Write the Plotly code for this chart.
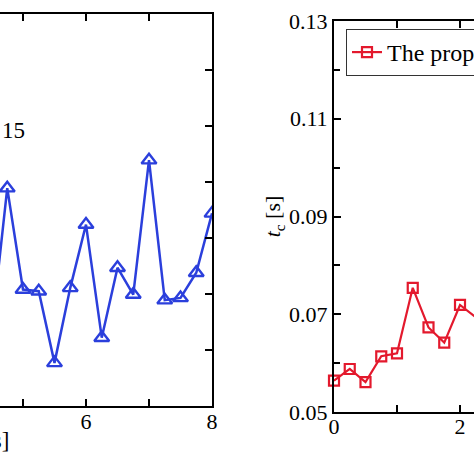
import plotly.graph_objects as go

# ---- data ----
left_x = [4.5, 4.75, 5.0, 5.25, 5.5, 5.75, 6.0, 6.25, 6.5, 6.75, 7.0, 7.25, 7.5, 7.75, 8.0]
left_y = [0.0632, 0.0889, 0.0708, 0.0705, 0.0577, 0.0711, 0.0824, 0.0622, 0.0747,
          0.0699, 0.0939, 0.0689, 0.0693, 0.0738, 0.0844]

right_x = [0, 0.25, 0.5, 0.75, 1.0, 1.25, 1.5, 1.75, 2.0, 2.25]
right_y = [0.0564, 0.0588, 0.0561, 0.0614, 0.0620, 0.0754, 0.0673, 0.0642, 0.0719, 0.0694]

right_name = "The proposed method"
right_ytitle = "<i>t</i><sub>c</sub> [s]"
left_xtitle = "<i>t</i> [s]"
left_note = "15"

FONT = "Liberation Serif"
BLUE = "#2b3fdc"
RED = "#e3192d"

fig = go.Figure()
fig.add_trace(go.Scatter(
    x=left_x, y=left_y, mode="lines+markers", xaxis="x", yaxis="y",
    line=dict(color=BLUE, width=2.5),
    marker=dict(symbol="triangle-up-open", size=13, color=BLUE, line=dict(width=2.4, color=BLUE)),
    showlegend=False,
))
fig.add_trace(go.Scatter(
    x=right_x, y=right_y, mode="lines+markers", xaxis="x2", yaxis="y2",
    name=right_name, cliponaxis=False,
    line=dict(color=RED, width=2.2),
    marker=dict(symbol="square-open", size=10, color=RED, line=dict(width=2.2, color=RED)),
))

W = 474.0
axis_common = dict(showgrid=False, zeroline=False, showline=True, linecolor="black",
                   linewidth=2, ticks="inside", ticklen=7, tickwidth=1.5, tickcolor="black",
                   tickfont=dict(family=FONT, size=22, color="black"), automargin=False)

fig.update_layout(
    width=474, height=474, autosize=False,
    margin=dict(l=0, r=0, t=0, b=0, autoexpand=False),
    paper_bgcolor="white", plot_bgcolor="white",
    font=dict(family=FONT, size=22, color="black"),
    xaxis=dict(domain=[0, 212 / W], range=[8 - 212 / 63.0, 8], dtick=2, tick0=0,
               mirror="ticks", anchor="y", ticklabelstandoff=-5,
               minor=dict(dtick=1, ticks="inside", ticklen=7, tickwidth=1.5, tickcolor="black"),
               **axis_common),
    yaxis=dict(domain=[(474 - 406) / W, (474 - 14) / W], range=[0.05, 0.12], dtick=0.01,
               side="right", showticklabels=False, mirror=False, anchor="x",
               **axis_common),
    xaxis2=dict(domain=[334 / W, 1.0], range=[0, 140 / 63.0], dtick=2, tick0=0,
                mirror="ticks", anchor="y2", ticklabelstandoff=-6,
                minor=dict(dtick=1, ticks="inside", ticklen=7, tickwidth=1.5, tickcolor="black"),
                **axis_common),
    yaxis2=dict(domain=[(474 - 412) / W, (474 - 21) / W], range=[0.05, 0.13], dtick=0.02,
                tick0=0.05, tickformat=".2f", mirror=False, anchor="x2",
                minor=dict(dtick=0.01, ticks="inside", ticklen=6, tickwidth=1.5, tickcolor="black"),
                title=dict(text=right_ytitle, font=dict(family=FONT, size=22), standoff=2),
                **axis_common),
    legend=dict(x=346 / W, y=(474 - 29) / W, xanchor="left", yanchor="top",
                bgcolor="white", bordercolor="#333", borderwidth=1,
                font=dict(family=FONT, size=24, color="black"),
                itemwidth=30),
    annotations=[
        dict(text=left_note, x=0, y=(474 - 130) / W, xref="paper", yref="paper",
             xanchor="left", yanchor="middle", showarrow=False,
             font=dict(family=FONT, size=23, color="black")),
        dict(text=left_xtitle, x=11 / W, y=(474 - 440) / W, xref="paper", yref="paper",
             xanchor="right", yanchor="middle", showarrow=False,
             font=dict(family=FONT, size=23, color="black")),
    ],
)

fig.write_html("out.html")
